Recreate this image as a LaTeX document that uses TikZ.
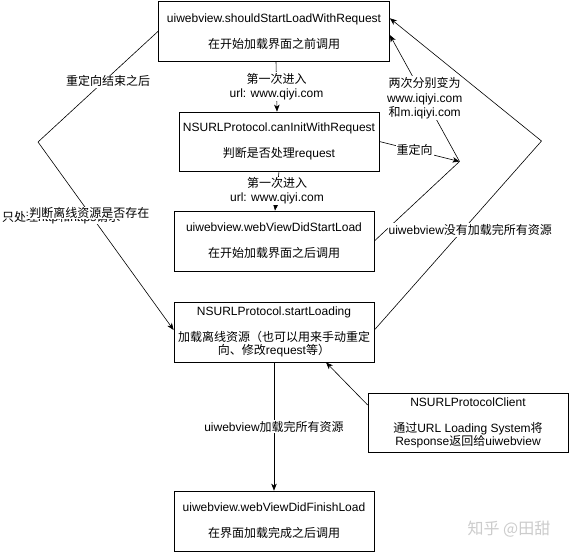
\documentclass[tikz,border=0pt]{standalone}
\usepackage{fontspec}
\setmainfont{Liberation Sans}
\newfontfamily\cjk{Noto Sans CJK SC}
\usetikzlibrary{arrows.meta}
\newcommand{\zh}[1]{{\cjk #1}}
\begin{document}
\begin{tikzpicture}[x=1pt,y=-1pt,
  box/.style={draw,line width=0.7pt,inner sep=0pt,align=center,font=\fontsize{12}{13}\selectfont},
  lbl/.style={fill=white,inner sep=1pt,align=center,font=\fontsize{12}{14}\selectfont},
  conn/.style={line width=0.6pt},
  arr/.style={conn,-{Stealth[length=7pt,width=5.5pt,inset=2pt]}}]
\fill[white] (0,0) rectangle (569,552);
\useasboundingbox (0,0) rectangle (569,552);

\node[box,minimum width=231pt,minimum height=59.5pt] (b1) at (274,31.25)
  {uiwebview.shouldStartLoadWithRequest\\[13pt]\zh{在开始加载界面之前调用}};
\node[box,minimum width=200pt,minimum height=59pt] (b2) at (279,141.5)
  {NSURLProtocol.canInitWithRequest\\[13pt]\zh{判断是否处理}request};
\node[box,minimum width=200pt,minimum height=60pt] (b3) at (274,241)
  {uiwebview.webViewDidStartLoad\\[13pt]\zh{在开始加载界面之后调用}};
\node[box,minimum width=200pt,minimum height=60pt] (b4) at (274,332)
  {NSURLProtocol.startLoading\\[13pt]\zh{加载离线资源（也可以用来手动重定}\\\zh{向、修改}request\zh{等）}};
\node[box,minimum width=200pt,minimum height=59pt] (b5) at (468,422.5)
  {NSURLProtocolClient\\[13pt]\zh{通过}URL Loading System\zh{将}\\Response\zh{返回给}uiwebview};
\node[box,minimum width=200pt,minimum height=60pt] (b6) at (274,521)
  {uiwebview.webViewDidFinishLoad\\[13pt]\zh{在界面加载完成之后调用}};

\coordinate (L) at (38,142);
\coordinate (I) at (459.5,161.5);
\coordinate (O) at (541.5,141);

\draw[arr] ([xshift=2pt]b1.south) -- node[lbl] {\zh{第一次进入}\\url: www.qiyi.com} ([xshift=-2pt]b2.north);
\draw[arr] (b2.south) -- node[lbl] {\zh{第一次进入}\\url: www.qiyi.com} ([xshift=1pt]b3.north);

\draw[conn] (b1.west) -- node[lbl,pos=0.45,xshift=4pt] {\zh{重定向结束之后}} (L);
\draw[arr] (L) -- node[lbl,pos=0.4,xshift=-31pt] {\zh{只处理}http\zh{和}https\zh{请求}}
  node[lbl,pos=0.378,inner ysep=0.5pt] {\zh{判断离线资源是否存在}} ([yshift=2pt]b4.west);

\draw[conn] (b3.east) -- (I);
\draw[arr] (b2.east) -- node[lbl,pos=0.44] {\zh{重定向}} (I);
\draw[arr] (I) -- node[lbl,font=\fontsize{12}{14.5}\selectfont] {\zh{两次分别变为}\\www.iqiyi.com\\\zh{和}m.iqiyi.com} ([yshift=-3.75pt]b1.east);

\draw[conn] ([yshift=2pt]b4.east) -- node[lbl,pos=0.529,xshift=7.5pt] {uiwebview\zh{没有加载完所有资源}} (O);
\draw[arr] (O) -- ([yshift=13pt]b1.east);

\draw[arr] ([yshift=17.5pt]b5.west) -- ([xshift=52pt]b4.south);
\draw[arr] (b4.south) -- node[lbl] {uiwebview\zh{加载完所有资源}} (b6.north);

\node[text=gray!40,font=\cjk\fontsize{16}{16}\selectfont] (wm) at (509,529) {知乎 @田甜};
\end{tikzpicture}
\end{document}
